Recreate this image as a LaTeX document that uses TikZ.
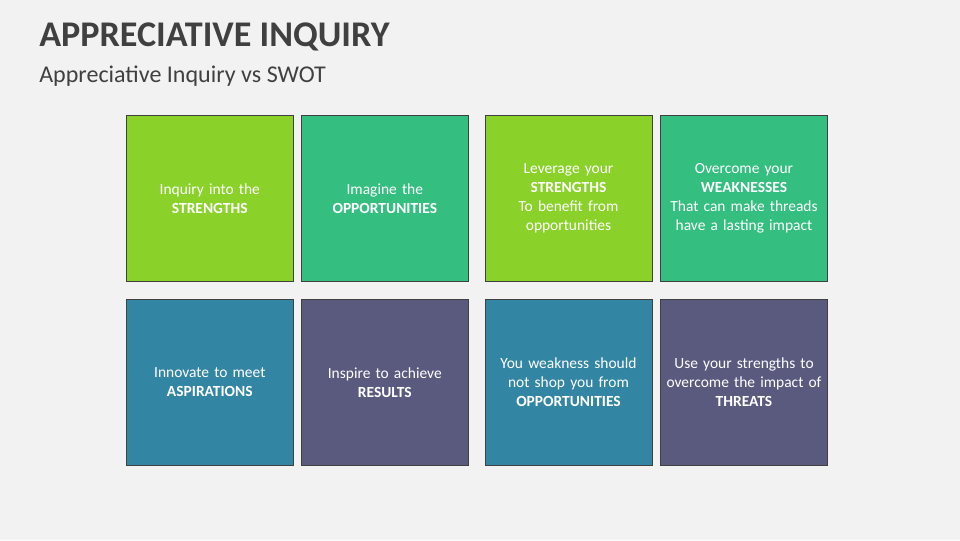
\documentclass[tikz,border=0pt]{standalone}
\usepackage{fontspec}
\setmainfont{Carlito}
\usetikzlibrary{positioning}

\definecolor{fondoGris}{RGB}{242, 242, 242}
\definecolor{textoOscuro}{RGB}{64, 64, 64}
\definecolor{bordeOscuro}{RGB}{64, 64, 64}
\definecolor{colorLima}{RGB}{138, 210, 41}
\definecolor{colorVerde}{RGB}{52, 190, 128}
\definecolor{colorAzul}{RGB}{51, 134, 163}
\definecolor{colorMorado}{RGB}{90, 89, 126}

\tikzset{
    cuadro/.style={
        rectangle, draw=bordeOscuro, line width=0.6pt,
        minimum width=4.175cm, minimum height=4.15cm,
        text width=4.1cm, align=center, inner sep=0pt,
        font=\fontsize{11}{13.6}\selectfont, text=white
    },
    cuadroLima/.style={cuadro, fill=colorLima},
    cuadroVerde/.style={cuadro, fill=colorVerde},
    cuadroAzul/.style={cuadro, fill=colorAzul},
    cuadroMorado/.style={cuadro, fill=colorMorado},
}

\begin{document}
\begin{tikzpicture}[x=0.025cm, y=-0.025cm]

    % ----------------------------------------------------------
    % FONDO (fija el tamano: 960 x 540)
    % ----------------------------------------------------------
    \fill[fondoGris] (0,0) rectangle (960,540);
    \useasboundingbox (0,0) rectangle (960,540);

    % ----------------------------------------------------------
    % TITULOS
    % ----------------------------------------------------------
    \node[anchor=base west, inner sep=0pt, text=textoOscuro,
          font=\fontsize{25.7}{30}\selectfont\bfseries]
          at (39, 46.5) (titulo) {APPRECIATIVE INQUIRY};
    \node[anchor=base west, inner sep=0pt, text=textoOscuro,
          font=\fontsize{17.1}{21}\selectfont]
          at (39, 82) (subtitulo) {Appreciative Inquiry vs SWOT};

    % ----------------------------------------------------------
    % CUADROS — Appreciative Inquiry (izquierda)
    % ----------------------------------------------------------
    \node[cuadroLima]   at (209.8, 198.3) (fortalezas)    {Inquiry into the\\\textbf{STRENGTHS}};
    \node[cuadroVerde]  at (384.8, 198.3) (oportunidades) {Imagine the\\\textbf{OPPORTUNITIES}};
    \node[cuadroAzul]   at (209.8, 382.3) (aspiraciones)  {Innovate to meet\\\textbf{ASPIRATIONS}};
    \node[cuadroMorado] at (384.8, 382.3) (resultados)    {Inspire to achieve\\\textbf{RESULTS}};

    % ----------------------------------------------------------
    % CUADROS — SWOT (derecha)
    % ----------------------------------------------------------
    \node[cuadroLima]   at (568.5, 198.3) (swotS) {Leverage your\\\textbf{STRENGTHS}\\To benefit from\\opportunities};
    \node[cuadroVerde]  at (744.0, 198.3) (swotW) {Overcome your\\\textbf{WEAKNESSES}\\That can make threads\\have a lasting impact};
    \node[cuadroAzul]   at (568.5, 382.3) (swotO) {You weakness should\\not shop you from\\\textbf{OPPORTUNITIES}};
    \node[cuadroMorado] at (744.0, 382.3) (swotT) {Use your strengths to\\overcome the impact of\\\textbf{THREATS}};

\end{tikzpicture}
\end{document}
